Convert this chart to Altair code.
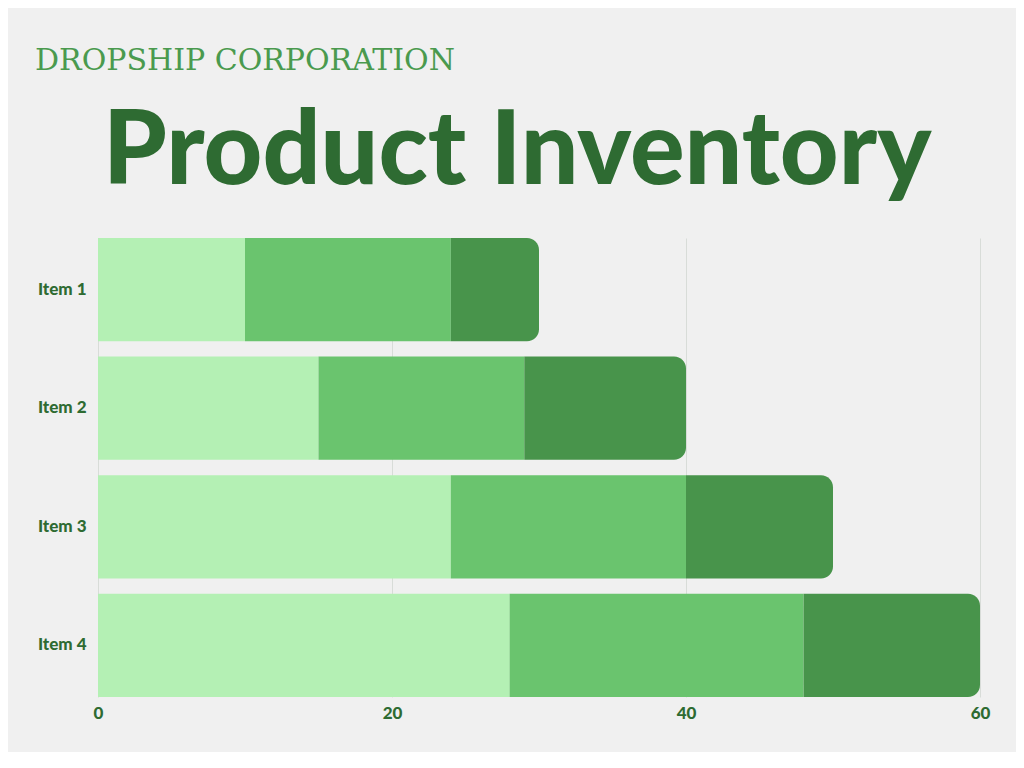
import pandas as pd
import altair as alt

# data
items = ["Item 1", "Item 2", "Item 3", "Item 4"]
seg_a = [10, 15, 24, 28]
seg_b = [14, 14, 16, 20]
seg_c = [6, 11, 10, 12]

LIGHT = "#b4f0b4"
MID = "#6ac46e"
DARK = "#48944b"
INK = "#2e6b32"
BG = "#f0f0f0"

rows = []
for i, name in enumerate(items):
    start = 0
    for seg, vals in (("a", seg_a), ("b", seg_b), ("c", seg_c)):
        rows.append({"item": name, "seg": seg, "start": start, "end": start + vals[i]})
        start += vals[i]
df = pd.DataFrame(rows)

y_enc = alt.Y(
    "item:N",
    sort=items,
    title=None,
    scale=alt.Scale(paddingInner=0.13, paddingOuter=0),
    axis=alt.Axis(
        ticks=False, domain=False, grid=False, labelPadding=12,
        labelFont="Lato", labelFontWeight=900, labelFontSize=17, labelColor=INK,
    ),
)
x_enc = alt.X(
    "start:Q",
    title=None,
    scale=alt.Scale(domain=[0, 60], nice=False),
    axis=alt.Axis(
        values=[0, 20, 40, 60], ticks=False, domain=False, grid=True,
        gridColor="#d8dcd8", gridWidth=1, labelPadding=8, labelFlush=False,
        labelFont="Lato", labelFontWeight=900, labelFontSize=17, labelColor=INK,
    ),
)
color_enc = alt.Color(
    "seg:N",
    scale=alt.Scale(domain=["a", "b", "c"], range=[LIGHT, MID, DARK]),
    legend=None,
)

flat = (
    alt.Chart(df)
    .transform_filter(alt.datum.seg != "c")
    .mark_bar()
    .encode(y=y_enc, x=x_enc, x2="end:Q", color=color_enc)
)
rounded = (
    alt.Chart(df)
    .transform_filter(alt.datum.seg == "c")
    .mark_bar(cornerRadiusTopRight=12, cornerRadiusBottomRight=12)
    .encode(y=y_enc, x=x_enc, x2="end:Q", color=color_enc)
)

kicker = (
    alt.Chart(pd.DataFrame({"t": ["DROPSHIP CORPORATION"]}))
    .mark_text(
        font="DejaVu Serif", fontSize=30, color="#4a9a4e",
        align="left", baseline="alphabetic",
    )
    .encode(x=alt.value(-63), y=alt.value(-168), text="t:N")
)
headline = (
    alt.Chart(pd.DataFrame({"t": ["Product Inventory"]}))
    .mark_text(
        font="Lato", fontWeight=900, fontSize=102, color=INK,
        align="left", baseline="alphabetic",
    )
    .encode(x=alt.value(5), y=alt.value(-54), text="t:N")
)

chart = (
    alt.layer(flat, rounded, kicker, headline)
    .properties(
        width=882,
        height=459,
        background=BG,
        padding={"left": 90, "top": 230, "right": 36, "bottom": 55},
        autosize=alt.AutoSizeParams(type="none"),
    )
    .configure_view(stroke=None)
)

chart.save("out.html", embed_options={"renderer": "svg", "actions": False})
